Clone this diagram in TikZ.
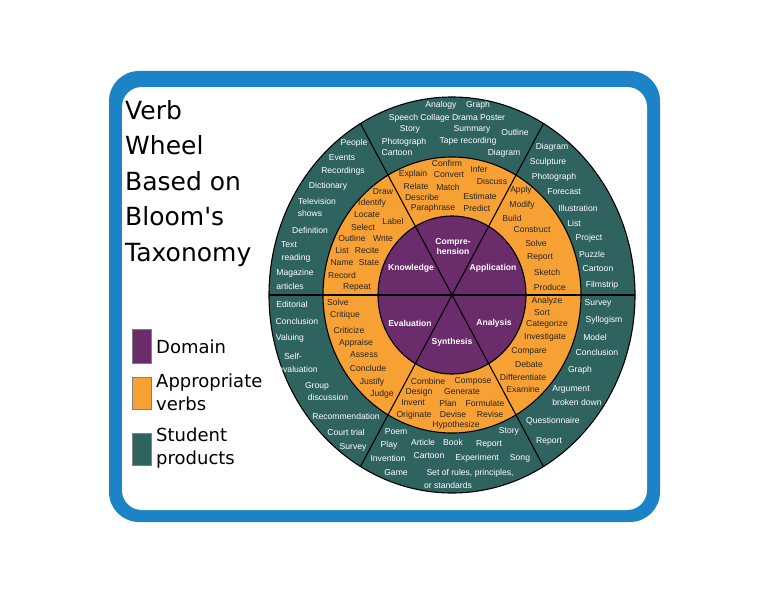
\documentclass[tikz,border=0pt]{standalone}
\usepackage{fontspec}
\setmainfont{Liberation Sans}
\newfontfamily\titlefont{DejaVu Sans}
\definecolor{teal1}{HTML}{2F6360}
\definecolor{orng}{HTML}{F7A033}
\definecolor{purp}{HTML}{6A2C6A}
\definecolor{frameblue}{HTML}{1C84C6}
\tikzset{
  wt/.style={text=white,font=\fontsize{8.6}{9}\selectfont,inner sep=0pt},
  ot/.style={text=black!85,font=\fontsize{8.6}{9}\selectfont,inner sep=0pt},
  pt/.style={text=white,font=\bfseries\fontsize{8.6}{10}\selectfont,inner sep=0pt,align=center},
  ttl/.style={font=\titlefont\fontsize{25}{35.5}\selectfont,anchor=north west,align=left,inner sep=0pt},
  leg/.style={font=\titlefont\fontsize{18}{23}\selectfont,anchor=west,align=left,inner sep=0pt},
  legbox/.style={draw=black!50,line width=0.6pt},
  divider/.style={black,line width=1.1pt}
}
\newcommand\W[3]{\node[wt] at (#1,#2) {#3};}
\newcommand\Ot[3]{\node[ot] at (#1,#2) {#3};}
\begin{document}
\begin{tikzpicture}[x=1pt,y=-1pt]
\useasboundingbox (0,0) rectangle (768,594);
% frame
\fill[frameblue,rounded corners=30pt] (109,71) rectangle (660,522);
\fill[white,rounded corners=20pt] (122,87) rectangle (647,510);
% title
\node[ttl] (title) at (125,100) {Verb\\Wheel\\Based on\\Bloom's\\Taxonomy};
% legend
\fill[purp,legbox] (132,329) rectangle (151,363);
\fill[orng,legbox] (132,377) rectangle (151,409);
\fill[teal1,legbox] (132,433) rectangle (151,465);
\node[leg] (l1) at (156,347) {Domain};
\node[leg] (l2) at (156,392) {Appropriate\\verbs};
\node[leg] (l3) at (156,448) {Student\\products};
% wheel
\coordinate (c) at (452,295);
\fill[teal1,draw=black,line width=1.1pt] (c) ellipse [x radius=183,y radius=198];
\fill[orng,draw=black,line width=1.1pt] (c) ellipse [x radius=129,y radius=138];
\fill[purp,draw=black,line width=1.1pt] (c) ellipse [x radius=74,y radius=79];
\foreach \a in {0,60,120,180,240,300}
  \draw[divider] (c) -- ++({183*cos(\a)},{-198*sin(\a)});
% purple labels
\node[pt] (kn) at (411,268) {Knowledge};
\node[pt] (co) at (453,247) {Compre-\\hension};
\node[pt] (ap) at (493,268) {Application};
\node[pt] (ev) at (410,323) {Evaluation};
\node[pt] (an) at (494,323) {Analysis};
\node[pt] (sy) at (452,342) {Synthesis};
% top teal
\W{441}{105}{Analogy} \W{478}{105}{Graph}
\W{447}{118}{Speech Collage Drama Poster}
\W{410}{129}{Story} \W{472}{129}{Summary} \W{515}{132}{Outline}
\W{404}{142}{Photograph} \W{468}{141}{Tape recording}
\W{397}{153}{Cartoon} \W{504}{153}{Diagram}
% left-top teal
\W{354}{143}{People} \W{342}{158}{Events} \W{343}{171}{Recordings}
\W{328}{186}{Dictionary} \W{317}{201}{Television} \W{310}{213}{shows}
\W{310}{230}{Definition} \W{289}{245}{Text} \W{296}{258}{reading}
\W{295}{273}{Magazine} \W{290}{286}{articles}
% right-top teal
\W{552}{147}{Diagram} \W{548}{162}{Sculpture} \W{554}{177}{Photograph}
\W{564}{192}{Forecast} \W{578}{208}{Illustration} \W{574}{223}{List}
\W{589}{238}{Project} \W{592}{254}{Puzzle} \W{598}{269}{Cartoon}
\W{602}{285}{Filmstrip}
% right-bottom teal
\W{598}{303}{Survey} \W{604}{320}{Syllogism} \W{595}{337}{Model}
\W{597}{352}{Conclusion} \W{580}{370}{Graph} \W{571}{389}{Argument}
\W{577}{402}{broken down}
% bottom teal
\W{396}{432}{Poem} \W{509}{431}{Story} \W{423}{442}{Article} \W{453}{442}{Book}
\W{489}{444}{Report} \W{389}{445}{Play} \W{388}{458}{Invention} \W{429}{456}{Cartoon}
\W{477}{458}{Experiment} \W{520}{458}{Song} \W{396}{473}{Game}
\W{470}{473}{Set of rules, principles,} \W{448}{485}{or standards}
\W{553}{421}{Questionnaire} \W{549}{441}{Report}
% left-bottom teal
\W{292}{304}{Editorial} \W{297}{321}{Conclusion} \W{290}{338}{Valuing}
\W{293}{356}{Self-} \W{298}{369}{evaluation} \W{317}{386}{Group}
\W{328}{397}{discussion} \W{346}{416}{Recommendation} \W{346}{432}{Court trial}
\W{353}{447}{Survey}
% knowledge verbs
\Ot{383}{192}{Draw} \Ot{372}{203}{Identify} \Ot{367}{215}{Locate} \Ot{393}{221}{Label}
\Ot{363}{227}{Select} \Ot{352}{238}{Outline} \Ot{383}{238}{Write}
\Ot{342}{250}{List} \Ot{367}{250}{Recite} \Ot{342}{263}{Name} \Ot{369}{263}{State}
\Ot{342}{275}{Record} \Ot{357}{287}{Repeat}
% comprehension verbs
\Ot{447}{163}{Confirm} \Ot{479}{169}{Infer} \Ot{413}{174}{Explain} \Ot{449}{175}{Convert}
\Ot{492}{181}{Discuss} \Ot{416}{186}{Relate} \Ot{448}{187}{Match}
\Ot{422}{197}{Describe} \Ot{480}{196}{Estimate} \Ot{433}{208}{Paraphrase} \Ot{477}{208}{Predict}
% application verbs
\Ot{521}{190}{Apply} \Ot{522}{205}{Modify} \Ot{512}{218}{Build} \Ot{532}{230}{Construct}
\Ot{536}{243}{Solve} \Ot{540}{257}{Report} \Ot{547}{272}{Sketch} \Ot{550}{287}{Produce}
% evaluation verbs
\Ot{338}{302}{Solve} \Ot{345}{315}{Critique} \Ot{349}{330}{Criticize} \Ot{356}{343}{Appraise}
\Ot{364}{355}{Assess} \Ot{368}{368}{Conclude} \Ot{372}{382}{Justify} \Ot{382}{394}{Judge}
% synthesis verbs
\Ot{428}{381}{Combine} \Ot{473}{381}{Compose} \Ot{419}{392}{Design} \Ot{462}{392}{Generate}
\Ot{413}{403}{Invent} \Ot{448}{403}{Plan} \Ot{485}{403}{Formulate}
\Ot{414}{415}{Originate} \Ot{453}{414}{Devise} \Ot{490}{414}{Revise} \Ot{456}{425}{Hypothesize}
% analysis verbs
\Ot{547}{301}{Analyze} \Ot{542}{313}{Sort} \Ot{547}{324}{Categorize} \Ot{545}{337}{Investigate}
\Ot{529}{351}{Compare} \Ot{529}{364}{Debate} \Ot{523}{377}{Differentiate} \Ot{523}{389}{Examine}
\end{tikzpicture}
\end{document}
